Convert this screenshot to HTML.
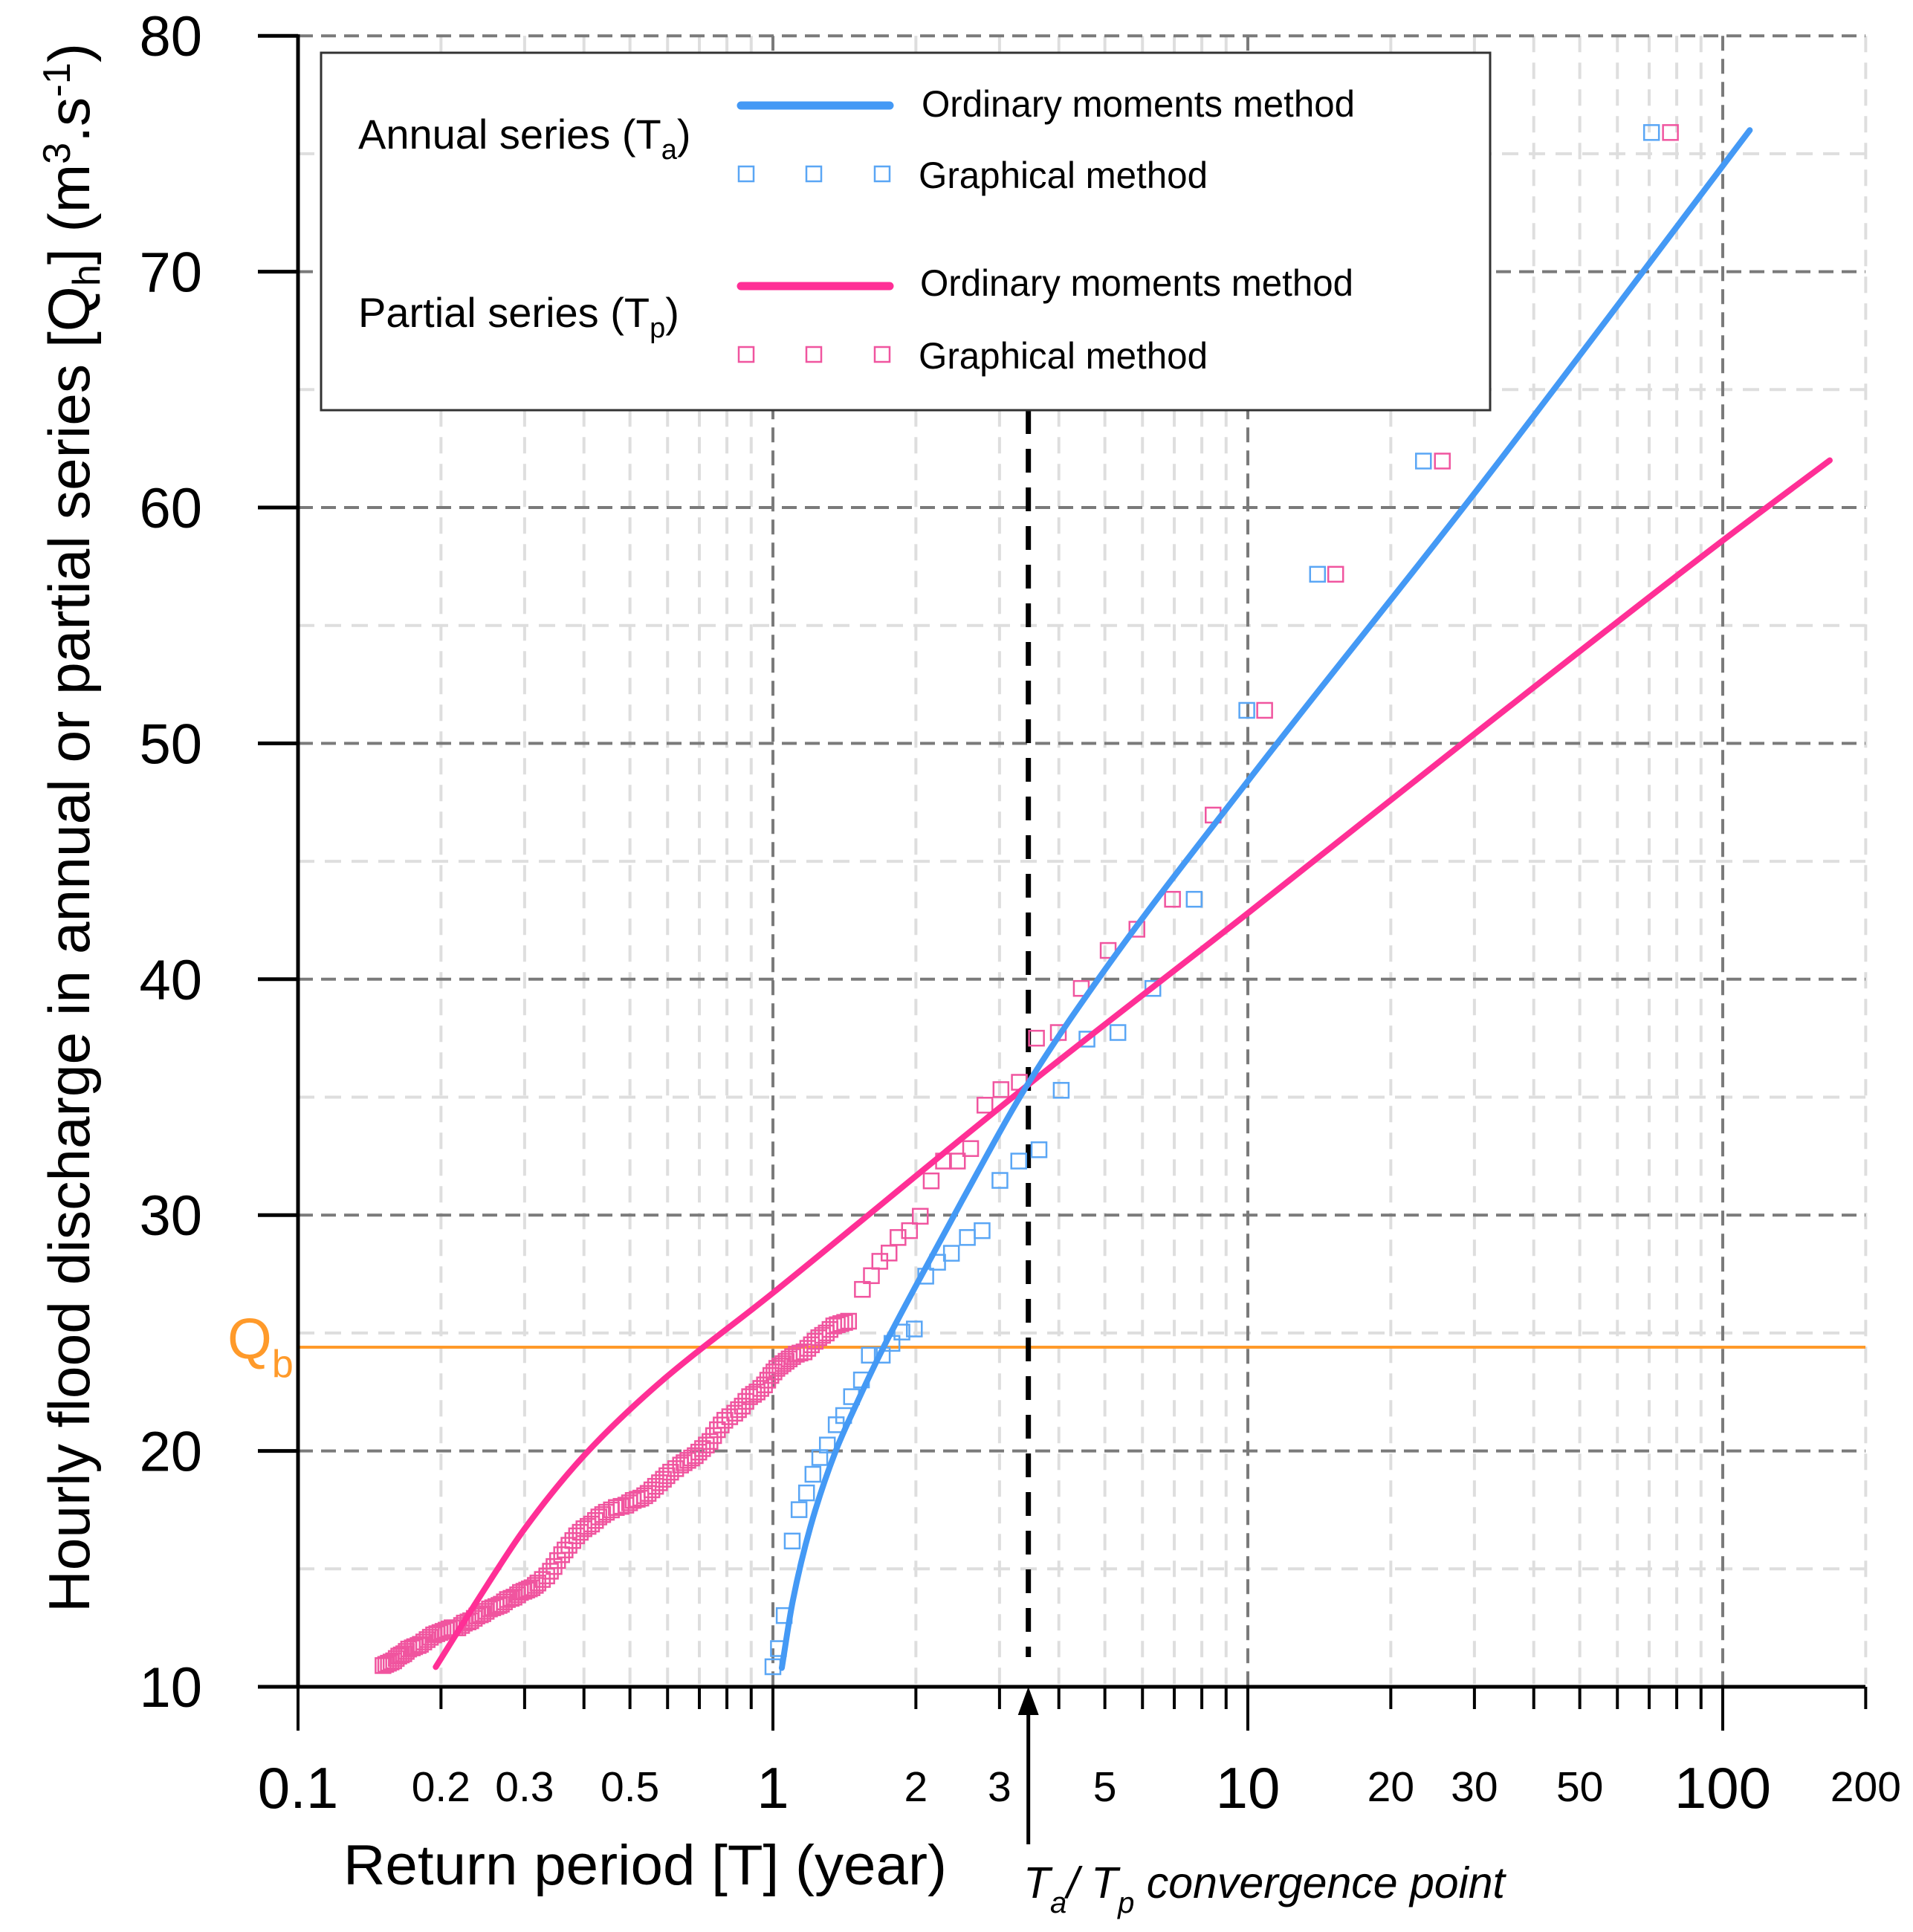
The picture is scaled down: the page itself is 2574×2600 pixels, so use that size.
<!DOCTYPE html>
<html><head><meta charset="utf-8"><style>
html,body{margin:0;padding:0;background:#fff;}
svg{display:block;font-family:"Liberation Sans",Arial,sans-serif;}
</style></head><body>
<svg id="chart" width="2574" height="2600" viewBox="0 0 2574 2600" xmlns="http://www.w3.org/2000/svg">
<g id="grid"></g>
<g id="marks"></g>
<g id="axes"></g>
<g id="legend"></g>
<text transform="translate(120,1114) rotate(-90)" text-anchor="middle" font-size="78" textLength="2112" lengthAdjust="spacingAndGlyphs">Hourly flood discharge in annual or partial series [Q<tspan font-size="52" dy="14">h</tspan><tspan dy="-14">] (m</tspan><tspan font-size="52" dy="-26">3</tspan><tspan dy="26">.s</tspan><tspan font-size="52" dy="-26">-1</tspan><tspan dy="26">)</tspan></text>
<text x="462" y="2536" font-size="76" textLength="812" lengthAdjust="spacingAndGlyphs">Return period [T] (year)</text>
<text x="1377" y="2554" font-size="59" font-style="italic">T<tspan font-size="40" dy="20">a</tspan><tspan dy="-20">/ T</tspan><tspan font-size="40" dy="20">p</tspan><tspan dy="-20"> convergence point</tspan></text>
<text x="306" y="1828" font-size="77" fill="#ff9a2a">Q<tspan font-size="52" dy="25">b</tspan></text>
</svg>
<script>
// ---- data ----
const yTicks = [10,20,30,40,50,60,70,80];
const yMinorTicks = [15,25,35,45,55,65,75];
const xMajorTicks = [0.1,1,10,100];
const xMinorTicks = [0.2,0.3,0.4,0.5,0.6,0.7,0.8,0.9,2,3,4,5,6,7,8,9,20,30,40,50,60,70,80,90,200];
const xBigLabels = ["0.1","1","10","100"];
const xSmallLabelVals = [0.2,0.3,0.5,2,3,5,20,30,50,200];
const xSmallLabels = ["0.2","0.3","0.5","2","3","5","20","30","50","200"];
const qb = 24.4;
const convergenceT = 3.45;

const annualFitT = [1.044,1.1,1.2,1.35,1.5,1.7,2.0,2.5,3.42,5,10,30,114];
const annualFitQ = [10.8,13.6,16.8,19.9,22.0,24.3,27.0,30.6,35.47,40.4,48.4,60.6,76.0];
const partialFitT = [0.195,0.25,0.3,0.4,0.556,1,3.42,10,30,100,168];
const partialFitQ = [10.84,14.3,16.7,19.8,22.6,26.7,35.47,42.8,50.4,58.6,62.0];

const annualT = [1.00,1.027,1.056,1.098,1.135,1.177,1.214,1.255,1.302,1.359,1.409,1.464,1.536,1.596,1.699,1.781,1.869,1.985,2.098,2.222,2.376,2.567,2.757,3.006,3.293,3.633,4.046,4.584,5.326,6.31,7.71,9.95,14.02,23.43,70.8];
const annualQ = [10.85,11.62,13.02,16.18,17.51,18.22,19.01,19.72,20.25,21.11,21.50,22.30,23.01,24.06,24.06,24.56,25.04,25.17,27.41,28.00,28.38,29.05,29.34,31.47,32.29,32.77,35.29,37.46,37.74,39.61,43.39,51.40,57.17,61.97,75.90];

const partialT = [0.151,0.153,0.155,0.157,0.159,0.161,0.163,0.165,0.167,0.169,0.171,0.174,0.176,0.179,0.181,0.184,0.187,0.190,0.193,0.196,0.199,0.202,0.205,0.208,0.211,0.214,0.217,0.221,0.224,0.228,0.231,0.235,0.238,0.242,0.245,0.249,0.253,0.257,0.261,0.265,0.268,0.272,0.276,0.281,0.285,0.290,0.294,0.299,0.303,0.307,0.311,0.316,0.320,0.327,0.334,0.340,0.346,0.352,0.359,0.365,0.372,0.379,0.386,0.393,0.400,0.408,0.415,0.423,0.430,0.438,0.446,0.457,0.468,0.479,0.490,0.499,0.508,0.518,0.527,0.537,0.546,0.556,0.566,0.577,0.588,0.598,0.609,0.624,0.639,0.650,0.662,0.674,0.686,0.698,0.711,0.724,0.737,0.750,0.764,0.778,0.792,0.811,0.831,0.846,0.862,0.877,0.893,0.910,0.926,0.943,0.960,0.975,0.990,1.005,1.019,1.035,1.050,1.066,1.082,1.100,1.120,1.140,1.163,1.184,1.205,1.227,1.249,1.272,1.295,1.319,1.343,1.366,1.390,1.416,1.443,1.543,1.612,1.679,1.756,1.834,1.939,2.043,2.154,2.287,2.446,2.608,2.795,3.021,3.303,3.589,3.99,4.46,5.08,5.84,6.94,8.45,10.85,15.31,25.68,77.6];
const partialQ = [10.9,10.95,11.0,11.05,11.1,11.2,11.3,11.35,11.4,11.5,11.6,11.65,11.7,11.75,11.8,11.9,12.0,12.1,12.2,12.25,12.3,12.35,12.4,12.45,12.5,12.5,12.5,12.6,12.7,12.75,12.8,12.9,13.0,13.05,13.1,13.2,13.3,13.35,13.4,13.45,13.5,13.6,13.7,13.75,13.8,13.9,14.0,14.05,14.1,14.15,14.2,14.3,14.4,14.55,14.7,14.9,15.1,15.35,15.6,15.8,16.0,16.2,16.4,16.55,16.7,16.8,16.9,17.05,17.2,17.3,17.4,17.5,17.6,17.65,17.7,17.8,17.9,17.95,18.0,18.1,18.2,18.35,18.5,18.65,18.8,18.95,19.1,19.25,19.4,19.5,19.6,19.7,19.8,19.95,20.1,20.25,20.4,20.65,20.9,21.1,21.3,21.45,21.6,21.75,21.9,22.1,22.3,22.4,22.5,22.65,22.8,23.0,23.2,23.35,23.5,23.6,23.7,23.8,23.9,24.0,24.1,24.15,24.2,24.35,24.5,24.65,24.8,24.9,25.0,25.15,25.3,25.35,25.4,25.45,25.5,26.85,27.43,28.04,28.39,29.05,29.34,29.95,31.45,32.29,32.29,32.82,34.66,35.32,35.63,37.50,37.74,39.61,41.22,42.12,43.39,46.96,51.40,57.17,61.97,75.90];

// ---- scales ----
const X0 = 401, DEC = 639, XR = 2510;
const Y10 = 2270, PER10 = 317.4;
function xs(t){ return X0 + DEC*(Math.log10(t)+1); }
function ys(q){ return Y10 - (q-10)/10*PER10; }
const NS = "http://www.w3.org/2000/svg";
function mk(tag, attrs, parent){
  const e = document.createElementNS(NS, tag);
  for (const k in attrs) e.setAttribute(k, attrs[k]);
  parent.appendChild(e);
  return e;
}
const grid = document.getElementById('grid');
const marks = document.getElementById('marks');
const axes = document.getElementById('axes');
const legend = document.getElementById('legend');
const YTOP = ys(80);

yMinorTicks.forEach(v=>{
  const l = mk('line',{x1:X0,x2:XR,y1:ys(v),y2:ys(v),stroke:'#dedede','stroke-width':4,'stroke-dasharray':'22 14'},grid);
  
  
});
xMinorTicks.forEach(v=>{
  const l = mk('line',{x1:xs(v),x2:xs(v),y1:YTOP,y2:Y10,stroke:'#dedede','stroke-width':4,'stroke-dasharray':'22 14'},grid);
  
  
});
yTicks.forEach(v=>{
  if(v===10) return;
  const l = mk('line',{x1:X0,x2:XR,y1:ys(v),y2:ys(v),stroke:'#7a7a7a','stroke-width':4,'stroke-dasharray':'20 11'},grid);
  
  
});
xMajorTicks.forEach(v=>{
  if(v===0.1) return;
  const l = mk('line',{x1:xs(v),x2:xs(v),y1:YTOP,y2:Y10,stroke:'#7a7a7a','stroke-width':4,'stroke-dasharray':'20 11'},grid);
  
  
});

const qbl = mk('line',{x1:X0,x2:XR,y1:ys(qb),y2:ys(qb),stroke:'#ff9a2a','stroke-width':4},marks);



const cx = xs(convergenceT);
const cl = mk('line',{x1:cx,x2:cx,y1:552,y2:Y10-40,stroke:'#000','stroke-width':7,'stroke-dasharray':'32 20'},marks);



function smoothPath(T,Q){
  const p = T.map((t,i)=>[xs(t),ys(Q[i])]);
  const n = p.length, d = [], m = [];
  for(let i=0;i<n-1;i++) d.push((p[i+1][1]-p[i][1])/(p[i+1][0]-p[i][0]));
  m[0]=d[0]; m[n-1]=d[n-2];
  for(let i=1;i<n-1;i++){
    if(d[i-1]*d[i]<=0) m[i]=0;
    else { const h0=p[i][0]-p[i-1][0], h1=p[i+1][0]-p[i][0]; const w1=2*h1+h0, w2=h1+2*h0; m[i]=(w1+w2)/(w1/d[i-1]+w2/d[i]); }
  }
  let s='M'+p[0][0]+','+p[0][1];
  for(let i=0;i<n-1;i++){
    const h=p[i+1][0]-p[i][0];
    s+=' C'+(p[i][0]+h/3)+','+(p[i][1]+m[i]*h/3)+' '+(p[i+1][0]-h/3)+','+(p[i+1][1]-m[i+1]*h/3)+' '+p[i+1][0]+','+p[i+1][1];
  }
  return s;
}

function squares(T,Q,color,name){
  const g = mk('g',{},marks);
  
  
  T.forEach((t,i)=>{
    const r = mk('rect',{x:xs(t)-10,y:ys(Q[i])-10,width:20,height:20,fill:'none',stroke:color,'stroke-width':2.5},g);
    
    
  });
}
squares(partialT,partialQ,'#f0559f','partial-graphical-points');
squares(annualT,annualQ,'#5aa6f5','annual-graphical-points');

const pf = mk('path',{d:smoothPath(partialFitT,partialFitQ),fill:'none',stroke:'#ff2f96','stroke-width':8,'stroke-linecap':'round'},marks);


const af = mk('path',{d:smoothPath(annualFitT,annualFitQ),fill:'none',stroke:'#4499f5','stroke-width':8,'stroke-linecap':'round'},marks);



const ya = mk('line',{x1:X0,x2:X0,y1:YTOP-2,y2:Y10,stroke:'#000','stroke-width':5},axes);


const xa = mk('line',{x1:347,x2:XR,y1:Y10,y2:Y10,stroke:'#000','stroke-width':5},axes);


yTicks.forEach(v=>{
  const t = mk('line',{x1:347,x2:X0,y1:ys(v),y2:ys(v),stroke:'#000','stroke-width':5},axes);
  
  
  const lb = mk('text',{x:272,y:ys(v)+27,'font-size':76,'text-anchor':'end'},axes);
  lb.textContent = String(v);
  
  
});
xMajorTicks.forEach((v,i)=>{
  const t = mk('line',{x1:xs(v),x2:xs(v),y1:Y10,y2:2329,stroke:'#000','stroke-width':4},axes);
  
  
  const lb = mk('text',{x:xs(v),y:2433,'font-size':78,'text-anchor':'middle'},axes);
  lb.textContent = xBigLabels[i];
  
  
});
xMinorTicks.forEach(v=>{
  const t = mk('line',{x1:xs(v),x2:xs(v),y1:Y10,y2:2300,stroke:'#000','stroke-width':4},axes);
  
  
});
xSmallLabelVals.forEach((v,i)=>{
  const lb = mk('text',{x:xs(v),y:2424,'font-size':57,'text-anchor':'middle'},axes);
  lb.textContent = xSmallLabels[i];
  
  
});
const ar = mk('line',{x1:cx,x2:cx,y1:2482,y2:Y10+30,stroke:'#000','stroke-width':5},axes);


const ah = mk('polygon',{points:(cx)+','+(Y10)+' '+(cx-14)+','+(Y10+38)+' '+(cx+14)+','+(Y10+38),fill:'#000'},axes);



const box = mk('rect',{x:432,y:71,width:1573,height:481,fill:'#fff',stroke:'#333','stroke-width':3},legend);


function ltext(x,y,s,fs,w,name){
  const t = mk('text',{x:x,y:y,'font-size':fs},legend);
  t.textContent = s;
  if(w){ t.setAttribute('textLength',w); t.setAttribute('lengthAdjust','spacingAndGlyphs'); }
  
  
  return t;
}
const a1 = mk('text',{x:482,y:200,'font-size':56},legend);
a1.innerHTML = 'Annual series (T<tspan font-size="38" dy="14">a</tspan><tspan dy="-14">)</tspan>';


const p1 = mk('text',{x:482,y:440,'font-size':56},legend);
p1.innerHTML = 'Partial series (T<tspan font-size="38" dy="14">p</tspan><tspan dy="-14">)</tspan>';


const lb1 = mk('line',{x1:997,x2:1197,y1:142,y2:142,stroke:'#4499f5','stroke-width':11,'stroke-linecap':'round'},legend);


const lp1 = mk('line',{x1:997,x2:1197,y1:385,y2:385,stroke:'#ff2f96','stroke-width':11,'stroke-linecap':'round'},legend);


[1004,1095,1187].forEach(x=>{
  const r1 = mk('rect',{x:x-10,y:224,width:20,height:20,fill:'none',stroke:'#5aa6f5','stroke-width':2.5},legend);
  
  
  const r2 = mk('rect',{x:x-10,y:467,width:20,height:20,fill:'none',stroke:'#f0559f','stroke-width':2.5},legend);
  
  
});
ltext(1240,157,'Ordinary moments method',50,583,'legend-annual-moments-label');
ltext(1236,253,'Graphical method',50,389,'legend-annual-graphical-label');
ltext(1238,398,'Ordinary moments method',50,583,'legend-partial-moments-label');
ltext(1236,496,'Graphical method',50,389,'legend-partial-graphical-label');
</script>
</body></html>
